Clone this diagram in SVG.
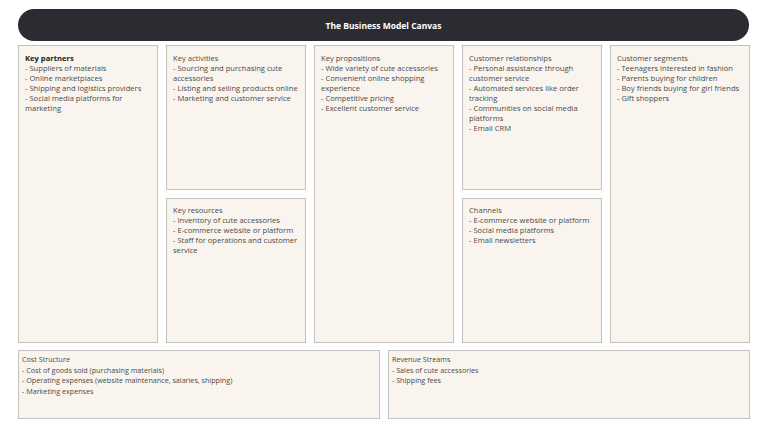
<svg xmlns="http://www.w3.org/2000/svg" width="768" height="424" viewBox="0 0 768 424">
<style>
.b{fill:#f9f5ee;stroke:#c4c2be;stroke-width:1}
text{font-family:"Open Sans","Noto Sans",sans-serif;font-size:7.6px;fill:#4a4a4a}
.h{font-weight:bold;fill:#222}
.s{font-size:7.2px}
</style>
<rect width="768" height="424" fill="#fff"/>
<g id="title"><rect x="18" y="9" width="731" height="32" rx="16" fill="#2b2c31"/><text x="383.5" y="28.5" text-anchor="middle" style="fill:#fff;font-weight:bold;font-size:8.5px">The Business Model Canvas</text></g>
<g id="partners"><rect class="b" x="18.5" y="45.5" width="139" height="297"/>
<text x="25" y="61"><tspan class="h">Key partners</tspan><tspan x="25" dy="10">- Suppliers of materials</tspan><tspan x="25" dy="10">- Online marketplaces</tspan><tspan x="25" dy="10">- Shipping and logistics providers</tspan><tspan x="25" dy="10">- Social media platforms for</tspan><tspan x="25" dy="10">marketing</tspan></text></g>
<g id="activities"><rect class="b" x="166.5" y="45.5" width="139" height="144"/>
<text x="173" y="61">Key activities<tspan x="173" dy="10">- Sourcing and purchasing cute</tspan><tspan x="173" dy="10">accessories</tspan><tspan x="173" dy="10">- Listing and selling products online</tspan><tspan x="173" dy="10">- Marketing and customer service</tspan></text></g>
<g id="resources"><rect class="b" x="166.5" y="198.5" width="139" height="144"/>
<text x="173" y="213">Key resources<tspan x="173" dy="10">- Inventory of cute accessories</tspan><tspan x="173" dy="10">- E-commerce website or platform</tspan><tspan x="173" dy="10">- Staff for operations and customer</tspan><tspan x="173" dy="10">service</tspan></text></g>
<g id="propositions"><rect class="b" x="314.5" y="45.5" width="139" height="297"/>
<text x="321" y="61">Key propositions<tspan x="321" dy="10">- Wide variety of cute accessories</tspan><tspan x="321" dy="10">- Convenient online shopping</tspan><tspan x="321" dy="10">experience</tspan><tspan x="321" dy="10">- Competitive pricing</tspan><tspan x="321" dy="10">- Excellent customer service</tspan></text></g>
<g id="relationships"><rect class="b" x="462.5" y="45.5" width="139" height="144"/>
<text x="469" y="61">Customer relationships<tspan x="469" dy="10">- Personal assistance through</tspan><tspan x="469" dy="10">customer service</tspan><tspan x="469" dy="10">- Automated services like order</tspan><tspan x="469" dy="10">tracking</tspan><tspan x="469" dy="10">- Communities on social media</tspan><tspan x="469" dy="10">platforms</tspan><tspan x="469" dy="10">- Email CRM</tspan></text></g>
<g id="channels"><rect class="b" x="462.5" y="198.5" width="139" height="144"/>
<text x="469" y="213">Channels<tspan x="469" dy="10">- E-commerce website or platform</tspan><tspan x="469" dy="10">- Social media platforms</tspan><tspan x="469" dy="10">- Email newsletters</tspan></text></g>
<g id="segments"><rect class="b" x="610.5" y="45.5" width="139" height="297"/>
<text x="617" y="61">Customer segments<tspan x="617" dy="10">- Teenagers interested in fashion</tspan><tspan x="617" dy="10">- Parents buying for children</tspan><tspan x="617" dy="10">- Boy friends buying for girl friends</tspan><tspan x="617" dy="10">- Gift shoppers</tspan></text></g>
<g id="cost"><rect class="b" x="18.5" y="350.5" width="361" height="68"/>
<text class="s" x="22" y="362">Cost Structure<tspan x="22" dy="10.5">- Cost of goods sold (purchasing materials)</tspan><tspan x="22" dy="10.5">- Operating expenses (website maintenance, salaries, shipping)</tspan><tspan x="22" dy="10.5">- Marketing expenses</tspan></text></g>
<g id="revenue"><rect class="b" x="388.5" y="350.5" width="361" height="68"/>
<text class="s" x="392" y="362">Revenue Streams<tspan x="392" dy="10.5">- Sales of cute accessories</tspan><tspan x="392" dy="10.5">- Shipping fees</tspan></text></g>
<g id="connectors"/>
</svg>
